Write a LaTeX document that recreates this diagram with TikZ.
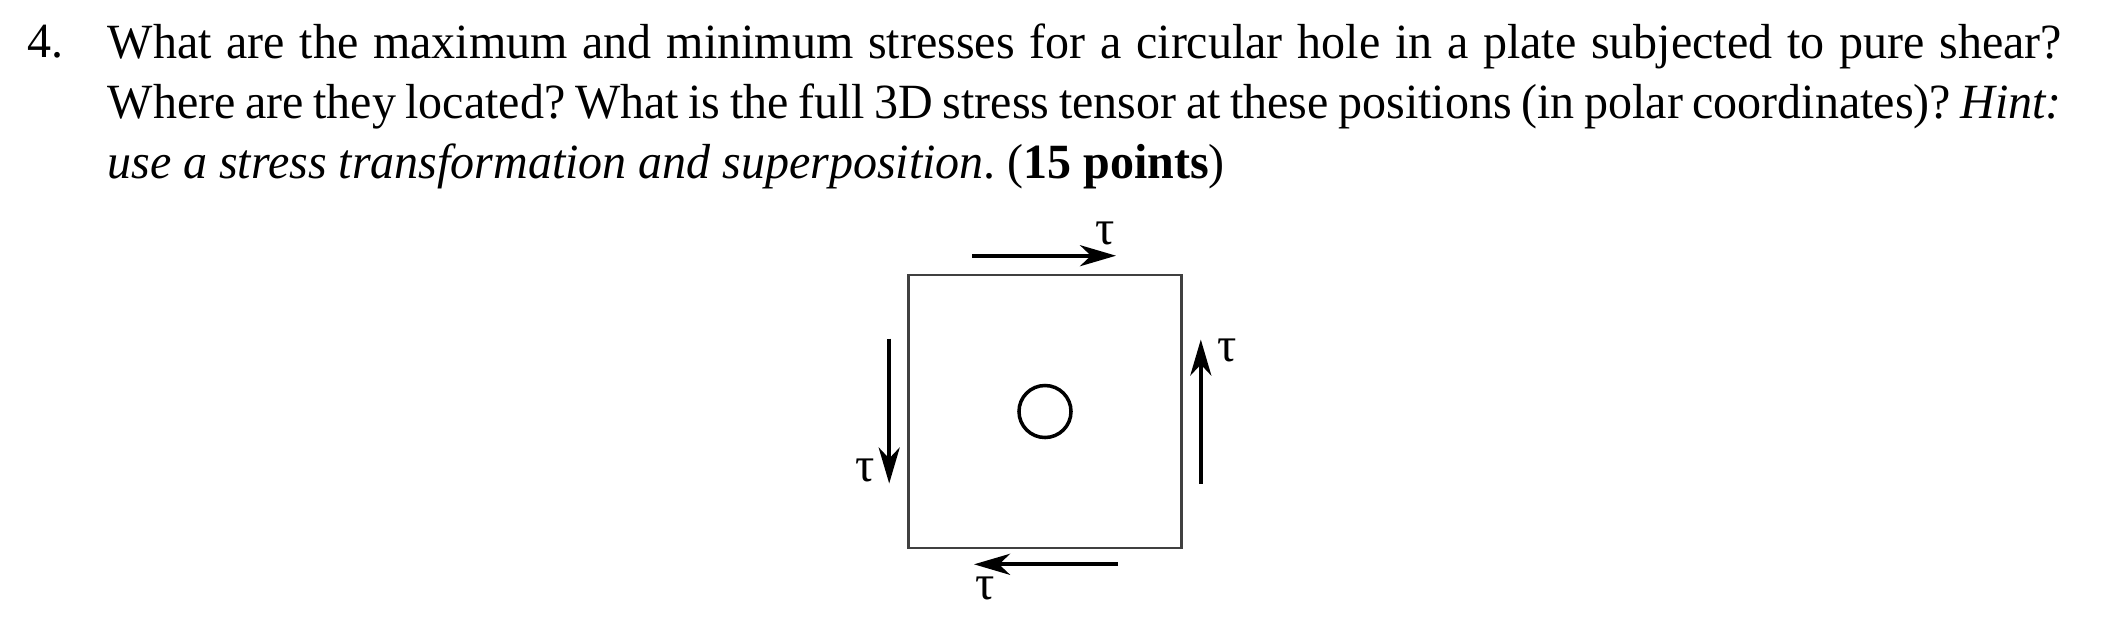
\documentclass[tikz,border=0pt]{standalone}
\usepackage{fontspec}
\setmainfont[FakeStretch=0.975]{Liberation Serif}
\usetikzlibrary{positioning,calc,arrows.meta}
\tikzset{
  question/.style = {inner sep=0pt, align=justify, text width=19.53cm, anchor=north west,
                   font=\fontsize{14}{17}\selectfont},
  number/.style = {inner sep=0pt, anchor=base west, font=\fontsize{14}{17}\selectfont},
  plate/.style  = {draw=black!75, line width=0.7pt, minimum size=2.73cm, inner sep=0pt},
  hole/.style   = {circle, draw, line width=1pt, minimum size=0.52cm, inner sep=0pt},
  load/.style   = {-{Stealth[length=3.6mm,width=2.1mm,inset=1.1mm]}, line width=1.15pt},
  lab/.style    = {inner sep=0pt, font=\fontsize{14}{14}\selectfont}
}
\begin{document}
\begin{tikzpicture}[x=0.01cm,y=-0.01cm]
  \useasboundingbox (0,0) rectangle (2102,632);
  \node[number] (num) at (27,57) {4.};
  \node[question] (text) at (107,23.5) {\frenchspacing\spaceskip=0.15em plus 1em minus 0.05em What are the maximum and minimum stresses for a circular hole in a plate subjected to pure shear?\linebreak
    Where are they located? What is the full 3D stress tensor at these positions (in polar coordinates)? \textit{Hint:}\linebreak
    \spaceskip=0.24em \textit{use a stress transformation and superposition}. (\textbf{15 points})};
  \node[plate] (sq) at (1045,411.5) {};
  \node[hole] (circ) at (sq.center) {};
  % the four shear loads
  \coordinate (ta) at ($(sq.north)+(-73,-18)$);
  \coordinate (tb) at ($(sq.north)+(71,-18)$);
  \coordinate (ra) at ($(sq.east)+(18,72)$);
  \coordinate (rb) at ($(sq.east)+(18,-72)$);
  \coordinate (la) at ($(sq.west)+(-18,-73)$);
  \coordinate (lb) at ($(sq.west)+(-18,72)$);
  \coordinate (ba) at ($(sq.south)+(73,15)$);
  \coordinate (bb) at ($(sq.south)+(-71,15)$);
  \draw[load] (ta) -- (tb);
  \draw[load] (ra) -- (rb);
  \draw[load] (la) -- (lb);
  \draw[load] (ba) -- (bb);
  \node[lab] (tt) at ($(tb)+(-11,-22)$) {τ};
  \node[lab] (tr) at ($(rb)+(26,11)$) {τ};
  \node[lab] (tl) at ($(lb)+(-24,-13)$) {τ};
  \node[lab] (tbm) at ($(bb)+(11,24)$) {τ};
\end{tikzpicture}
\end{document}
